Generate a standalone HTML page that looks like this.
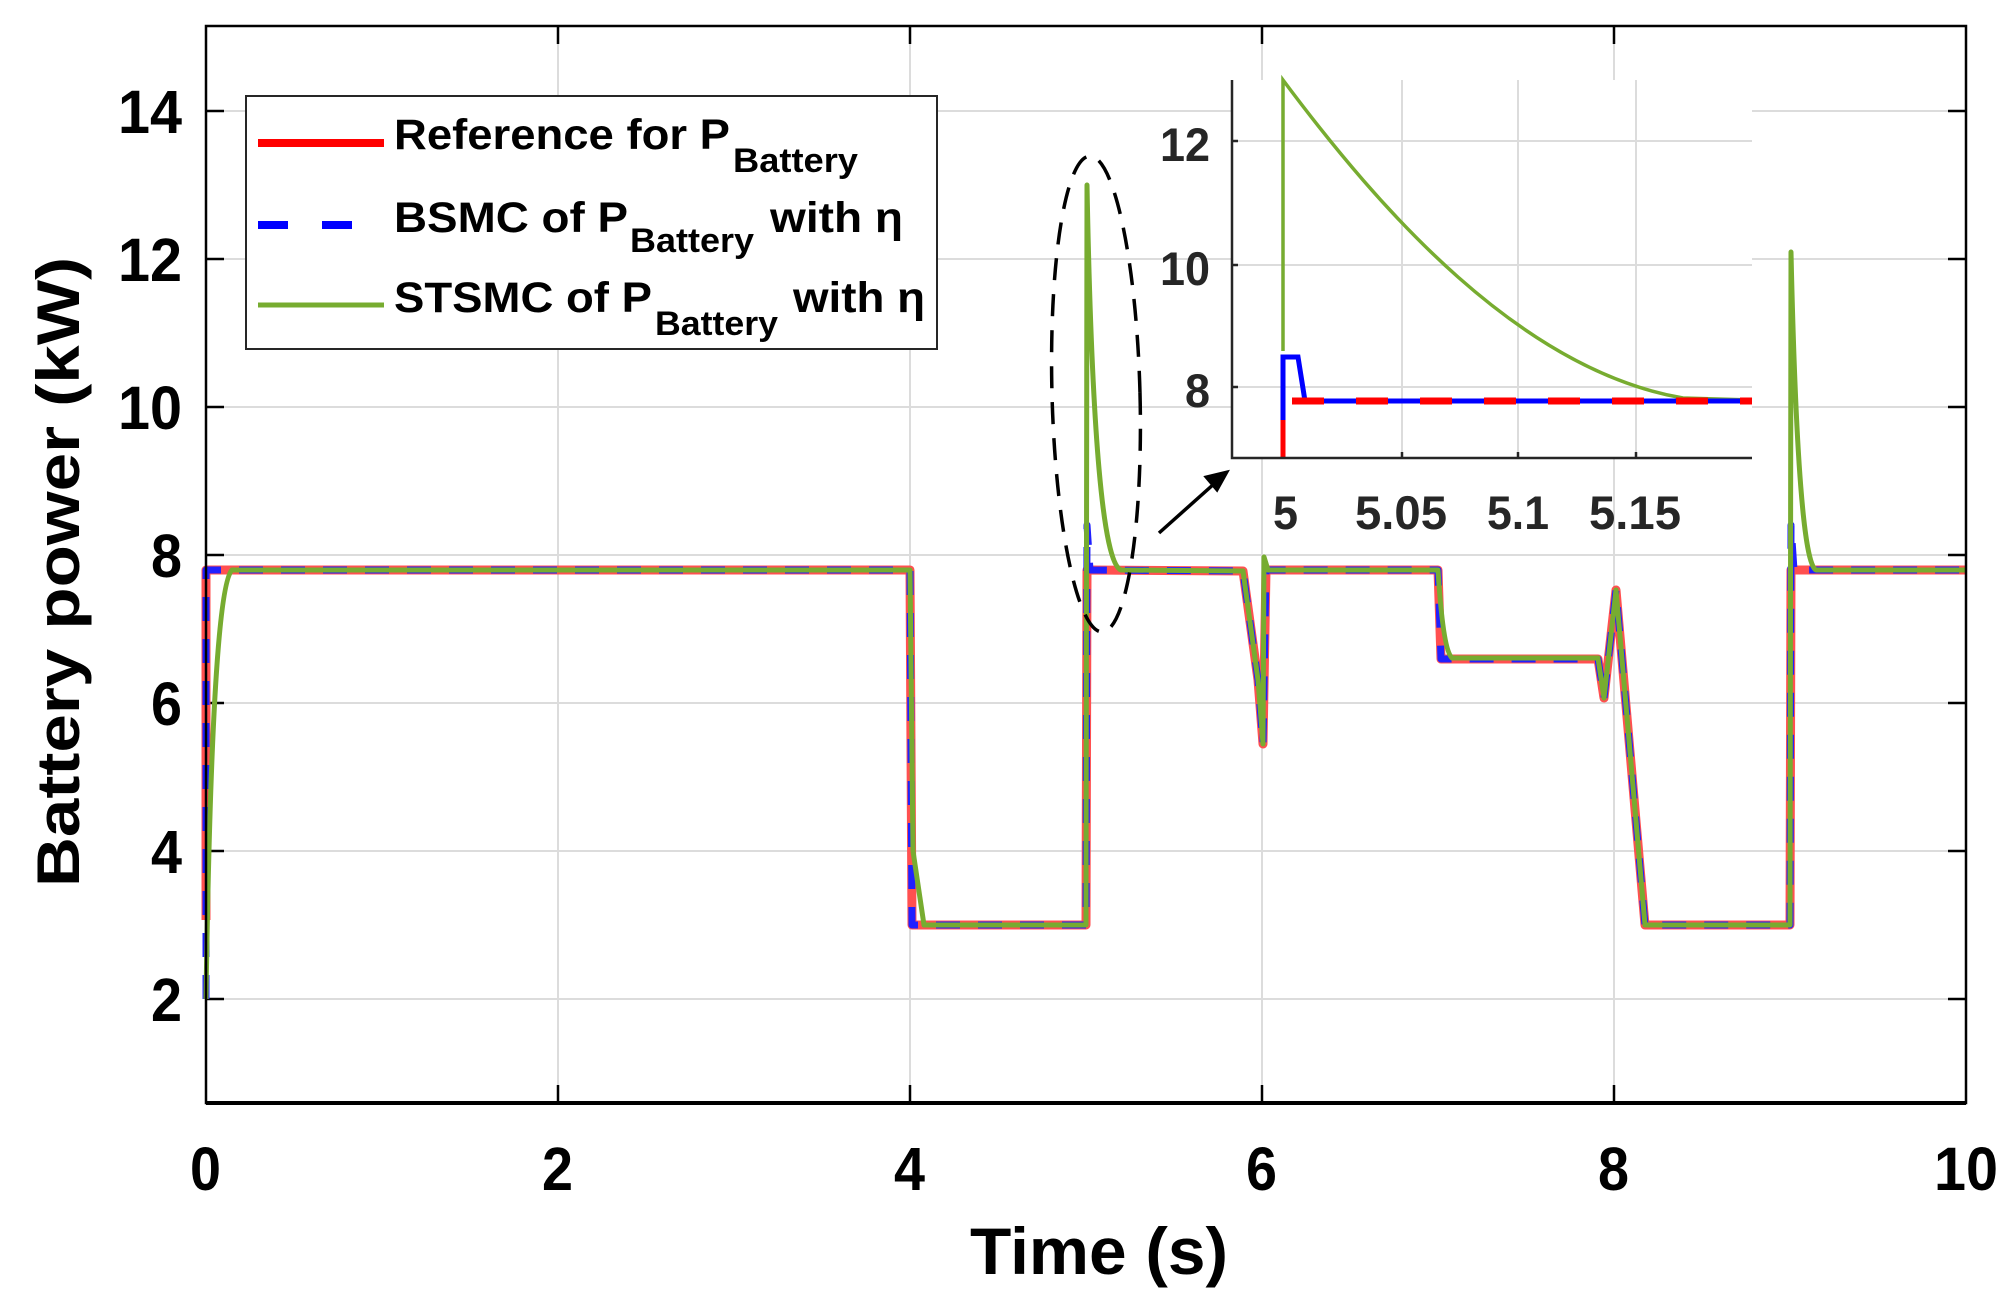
<!DOCTYPE html>
<html><head><meta charset="utf-8"><style>html,body{margin:0;padding:0;background:#fff}svg{display:block}</style></head>
<body>
<svg width="2015" height="1313" viewBox="0 0 2015 1313" xmlns="http://www.w3.org/2000/svg" font-family="Liberation Sans, Arial, sans-serif" font-weight="bold">
<rect width="2015" height="1313" fill="#fff"/>
<g stroke="#dcdcdc" stroke-width="2">
<line x1="558" y1="26" x2="558" y2="1103"/><line x1="910" y1="26" x2="910" y2="1103"/><line x1="1262" y1="26" x2="1262" y2="1103"/><line x1="1614" y1="26" x2="1614" y2="1103"/>
<line x1="206" y1="111" x2="1966" y2="111"/><line x1="206" y1="259" x2="1966" y2="259"/><line x1="206" y1="407" x2="1966" y2="407"/><line x1="206" y1="555" x2="1966" y2="555"/><line x1="206" y1="703" x2="1966" y2="703"/><line x1="206" y1="851" x2="1966" y2="851"/><line x1="206" y1="999" x2="1966" y2="999"/>
</g>
<g stroke="#000" stroke-width="2.5">
<path d="M558,1103v-18M910,1103v-18M1262,1103v-18M1614,1103v-18M558,26v18M910,26v18M1262,26v18M1614,26v18"/>
<path d="M206,111h18M206,259h18M206,407h18M206,555h18M206,703h18M206,851h18M206,999h18M1966,111h-18M1966,259h-18M1966,407h-18M1966,555h-18M1966,703h-18M1966,851h-18M1966,999h-18"/>
</g>
<g fill="none" stroke-linejoin="round">
<path stroke="#ff5050" stroke-width="9" d="M206,920 L206,570 L910,570 L912,925 L1086,925 L1087,570 L1243,571 L1258,680 L1263,744 L1266,570 L1438,570 L1441,659 L1598,659 L1604,698 L1616,590 L1645,925 L1790,925 L1791,570 L1966,570"/>
<path stroke="#2020ff" stroke-width="7" stroke-dasharray="24 18" d="M206,999 L206,570 L910,570 L912,925 L1086,925 L1087,525 L1090,570 L1243,571 L1258,680 L1263,744 L1266,570 L1438,570 L1441,659 L1598,659 L1604,698 L1616,590 L1645,925 L1790,925 L1791,525 L1794,570 L1966,570"/>
<path stroke="#77ac30" stroke-width="5" d="M206,999 Q212,590 232,570 L910,570 L913,851 L924,925 L1086,925 L1087,185 Q1094,560 1121,570 L1243,571 L1258,680 L1263,744 L1264,557 L1268,570 L1438,570 Q1443,650 1452,658 L1598,658 L1604,698 L1616,590 L1645,925 L1790,925 L1791,252 Q1798,562 1816,570 L1966,570"/>
</g>
<rect x="206" y="26" width="1760" height="1077" fill="none" stroke="#000" stroke-width="2.5"/>
<line x1="206" y1="1103" x2="1966" y2="1103" stroke="#000" stroke-width="4"/>
<ellipse cx="1096" cy="394" rx="44" ry="238" transform="rotate(-1.5 1096 394)" fill="none" stroke="#000" stroke-width="3.5" stroke-dasharray="22 14"/>
<line x1="1159" y1="533" x2="1215" y2="483" stroke="#000" stroke-width="3.5"/>
<polygon points="1227,472 1206,477 1217,490" fill="#000" stroke="#000" stroke-width="3"/>
<rect x="1232" y="80" width="520" height="378" fill="#fff"/>
<g stroke="#dcdcdc" stroke-width="2">
<line x1="1402" y1="80" x2="1402" y2="458"/><line x1="1518" y1="80" x2="1518" y2="458"/><line x1="1636" y1="80" x2="1636" y2="458"/>
<line x1="1232" y1="141" x2="1752" y2="141"/><line x1="1232" y1="265" x2="1752" y2="265"/><line x1="1232" y1="387" x2="1752" y2="387"/>
</g>
<g stroke="#262626" stroke-width="2.5"><path d="M1402,458v-6M1518,458v-6M1636,458v-6M1232,141h6M1232,265h6M1232,387h6"/></g>
<g fill="none">
<path stroke="#77ac30" stroke-width="3.5" d="M1283,351 L1283,80 C1380,210 1520,370 1683,398 L1752,400"/>
<path stroke="#0000ff" stroke-width="5" d="M1283,458 L1283,357 L1298,357 L1305,401 L1752,401"/>
<path stroke="#ff0000" stroke-width="5" d="M1283,458 L1283,420"/>
<path stroke="#ff0000" stroke-width="7" stroke-dasharray="32 32" d="M1292,401 L1752,401"/>
</g>
<path d="M1232,80 L1232,458 L1752,458" fill="none" stroke="#262626" stroke-width="2.5"/>
<g fill="#262626" font-size="47">
<text x="1210" y="161" text-anchor="end" textLength="50" lengthAdjust="spacingAndGlyphs">12</text>
<text x="1210" y="285" text-anchor="end" textLength="50" lengthAdjust="spacingAndGlyphs">10</text>
<text x="1210" y="407" text-anchor="end" textLength="25" lengthAdjust="spacingAndGlyphs">8</text>
<text x="1273" y="529" textLength="25" lengthAdjust="spacingAndGlyphs">5</text>
<text x="1355" y="529" textLength="92" lengthAdjust="spacingAndGlyphs">5.05</text>
<text x="1487" y="529" textLength="62" lengthAdjust="spacingAndGlyphs">5.1</text>
<text x="1589" y="529" textLength="92" lengthAdjust="spacingAndGlyphs">5.15</text>
</g>
<rect x="246" y="96" width="691" height="253" fill="#fff" stroke="#262626" stroke-width="2"/>
<line x1="258" y1="143" x2="384" y2="143" stroke="#ff0000" stroke-width="8"/>
<line x1="258" y1="225" x2="384" y2="225" stroke="#0000ff" stroke-width="8" stroke-dasharray="30 34"/>
<line x1="258" y1="305" x2="384" y2="305" stroke="#77ac30" stroke-width="5"/>
<g fill="#000" font-size="43">
<text x="394" y="149" textLength="336" lengthAdjust="spacingAndGlyphs">Reference for P</text>
<text x="733" y="172" font-size="34" textLength="125" lengthAdjust="spacingAndGlyphs">Battery</text>
<text x="394" y="232" textLength="234" lengthAdjust="spacingAndGlyphs">BSMC of P</text>
<text x="630" y="252" font-size="34" textLength="124" lengthAdjust="spacingAndGlyphs">Battery</text>
<text x="770" y="232" textLength="133" lengthAdjust="spacingAndGlyphs">with η</text>
<text x="394" y="312" textLength="258" lengthAdjust="spacingAndGlyphs">STSMC of P</text>
<text x="655" y="335" font-size="34" textLength="123" lengthAdjust="spacingAndGlyphs">Battery</text>
<text x="793" y="312" textLength="132" lengthAdjust="spacingAndGlyphs">with η</text>
</g>
<g fill="#000" font-size="61">
<text x="182" y="133" text-anchor="end" textLength="64" lengthAdjust="spacingAndGlyphs">14</text>
<text x="182" y="281" text-anchor="end" textLength="64" lengthAdjust="spacingAndGlyphs">12</text>
<text x="182" y="429" text-anchor="end" textLength="64" lengthAdjust="spacingAndGlyphs">10</text>
<text x="182" y="577" text-anchor="end" textLength="31" lengthAdjust="spacingAndGlyphs">8</text>
<text x="182" y="725" text-anchor="end" textLength="31" lengthAdjust="spacingAndGlyphs">6</text>
<text x="182" y="873" text-anchor="end" textLength="31" lengthAdjust="spacingAndGlyphs">4</text>
<text x="182" y="1021" text-anchor="end" textLength="31" lengthAdjust="spacingAndGlyphs">2</text>
<text x="190" y="1190" textLength="31" lengthAdjust="spacingAndGlyphs">0</text>
<text x="542" y="1190" textLength="31" lengthAdjust="spacingAndGlyphs">2</text>
<text x="894" y="1190" textLength="31" lengthAdjust="spacingAndGlyphs">4</text>
<text x="1246" y="1190" textLength="31" lengthAdjust="spacingAndGlyphs">6</text>
<text x="1598" y="1190" textLength="31" lengthAdjust="spacingAndGlyphs">8</text>
<text x="1934" y="1190" textLength="64" lengthAdjust="spacingAndGlyphs">10</text>
</g>
<text x="970" y="1274" font-size="66" textLength="258" lengthAdjust="spacingAndGlyphs">Time (s)</text>
<text transform="translate(79,887) rotate(-90)" font-size="60" textLength="630" lengthAdjust="spacingAndGlyphs">Battery power (kW)</text>
</svg>
</body></html>
